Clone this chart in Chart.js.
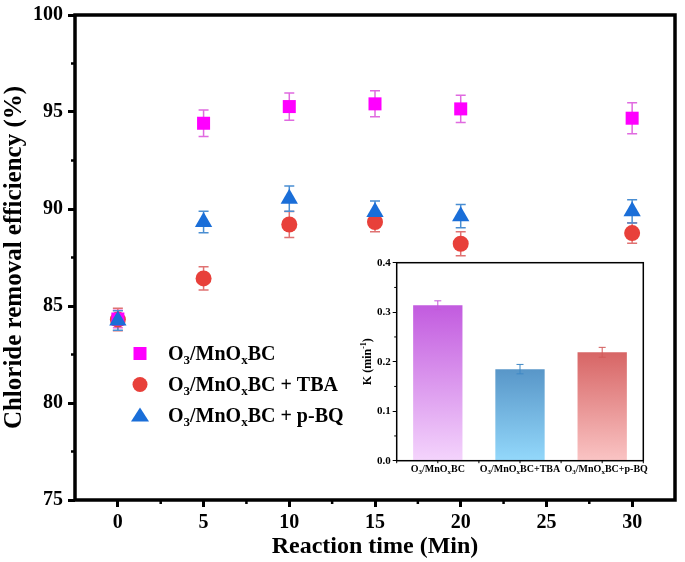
<!DOCTYPE html>
<html>
<head>
<meta charset="utf-8">
<script src="https://cdn.jsdelivr.net/npm/chart.js@4.4.0/dist/chart.umd.min.js"></script>
<style>
  html, body { margin: 0; padding: 0; background: #fff; }
  #wrap { position: relative; width: 685px; height: 562px; }
  #main { position: absolute; left: 0; top: 0; }
  #inset { position: absolute; left: 355px; top: 250px; }
</style>
</head>
<body>
<div id="wrap">
  <canvas id="main" width="685" height="562"></canvas>
  <canvas id="inset" width="305" height="230"></canvas>
</div>
<script>
/* ---- data ---- */
const times = [0, 5, 10, 15, 20, 30];
const xTickValues = [0, 5, 10, 15, 20, 25, 30];

const seriesNames = ['O₃/MnOₓBC', 'O₃/MnOₓBC + TBA', 'O₃/MnOₓBC + p-BQ'];

const removalPlain = [84.33, 94.42, 95.28, 95.42, 95.16, 94.68];
const removalPlainErr = [0.45, 0.68, 0.70, 0.67, 0.70, 0.80];

const removalTba = [84.30, 86.42, 89.20, 89.33, 88.21, 88.76];
const removalTbaErr = [0.58, 0.60, 0.67, 0.50, 0.62, 0.53];

const removalPbq = [84.25, 89.33, 90.53, 89.85, 89.63, 89.88];
const removalPbqErr = [0.50, 0.55, 0.65, 0.56, 0.60, 0.60];

const kLabels = ['O₃/MnOₓBC', 'O₃/MnOₓBC+TBA', 'O₃/MnOₓBC+p-BQ'];
const kValues = [0.314, 0.185, 0.219];
const kErr = [0.009, 0.0095, 0.010];

/* ---- styles ---- */
const SERIF = '"Liberation Serif", "Times New Roman", serif';
const kTop = ['#c25bdf', '#5896c8', '#d76565'];
const kBottom = ['#f4d4fc', '#93d8fb', '#fac4c4'];
const kErrColor = ['#c45ad8', '#3f88c5', '#d25a5a'];

// draws text with ₃ ₓ as subscripts and ⁻ ¹ as superscripts
function richParts(str) {
  const sub = { '₃': '3', 'ₓ': 'x' }, sup = { '⁻': '-', '¹': '1' };
  const parts = [];
  for (const ch of str) {
    const kind = sub[ch] ? 'sub' : sup[ch] ? 'sup' : 'n';
    const c = sub[ch] || sup[ch] || ch;
    const last = parts[parts.length - 1];
    if (last && last.kind === kind) last.text += c; else parts.push({ kind, text: c });
  }
  return parts;
}
function drawRich(ctx, str, x, y, size, align) {
  const parts = richParts(str);
  const small = Math.round(size * 0.65);
  const fontOf = k => `bold ${k === 'n' ? size : small}px ${SERIF}`;
  let w = 0;
  parts.forEach(p => { ctx.font = fontOf(p.kind); p.w = ctx.measureText(p.text).width; w += p.w; });
  let cx = align === 'center' ? x - w / 2 : align === 'right' ? x - w : x;
  ctx.textAlign = 'left';
  ctx.textBaseline = 'alphabetic';
  parts.forEach(p => {
    ctx.font = fontOf(p.kind);
    const dy = p.kind === 'sub' ? size * 0.22 : p.kind === 'sup' ? -size * 0.38 : 0;
    ctx.fillText(p.text, cx, y + dy);
    cx += p.w;
  });
}

/* ---- main chart plugins ---- */
const errorBars = {
  id: 'errorBars',
  beforeDatasetsDraw(chart) {
    const { ctx, scales: { x, y } } = chart;
    ctx.save();
    chart.data.datasets.forEach(ds => {
      ctx.strokeStyle = ds.errColor;
      ctx.lineWidth = 1.5;
      ds.data.forEach((p, i) => {
        const px = x.getPixelForValue(p.x);
        const top = y.getPixelForValue(p.y + ds.errors[i]);
        const bot = y.getPixelForValue(p.y - ds.errors[i]);
        ctx.beginPath();
        ctx.moveTo(px, top); ctx.lineTo(px, bot);
        ctx.moveTo(px - 5, top); ctx.lineTo(px + 5, top);
        ctx.moveTo(px - 5, bot); ctx.lineTo(px + 5, bot);
        ctx.stroke();
      });
    });
    ctx.restore();
  }
};

const frame = {
  id: 'frame',
  afterDraw(chart) {
    const { ctx, chartArea: a, scales: { x, y } } = chart;
    ctx.save();
    ctx.strokeStyle = '#000';
    ctx.lineWidth = 3.5;
    ctx.strokeRect(a.left, a.top, a.right - a.left, a.bottom - a.top);
    // minor ticks
    ctx.lineWidth = 2.5;
    ctx.beginPath();
    for (let v = 2.5; v < 32.5; v += 5) {
      const px = x.getPixelForValue(v);
      ctx.moveTo(px, a.bottom); ctx.lineTo(px, a.bottom + 4);
    }
    for (let v = 77.5; v < 100; v += 5) {
      const py = y.getPixelForValue(v);
      ctx.moveTo(a.left, py); ctx.lineTo(a.left - 4, py);
    }
    ctx.stroke();
    ctx.restore();
  }
};

const seriesLegend = {
  id: 'seriesLegend',
  afterDraw(chart) {
    const { ctx, chartArea: a } = chart;
    ctx.save();
    chart.data.datasets.forEach((ds, i) => {
      const mx = a.left + 65, my = a.top + 338.5 + i * 31;
      ctx.fillStyle = ds.pointBackgroundColor;
      ctx.beginPath();
      if (ds.pointStyle === 'rect') {
        ctx.rect(mx - 6.5, my - 6.5, 13, 13);
      } else if (ds.pointStyle === 'circle') {
        ctx.arc(mx, my, 7.5, 0, Math.PI * 2);
      } else {
        ctx.moveTo(mx, my - 8); ctx.lineTo(mx + 9, my + 6); ctx.lineTo(mx - 9, my + 6); ctx.closePath();
      }
      ctx.fill();
      ctx.fillStyle = '#000';
      drawRich(ctx, ds.label, a.left + 93, my + 6.5, 20, 'left');
    });
    ctx.restore();
  }
};

const tickFont = { family: SERIF, size: 20, weight: 'bold', lineHeight: 1 };
const titleFont = { family: SERIF, size: 25, weight: 'bold', lineHeight: 1 };

new Chart(document.getElementById('main'), {
  type: 'scatter',
  data: {
    datasets: [
      { label: seriesNames[0], data: times.map((t, i) => ({ x: t, y: removalPlain[i] })), errors: removalPlainErr,
        errColor: '#e06ae0', pointStyle: 'rect', pointRadius: 9.2, pointBackgroundColor: '#ff00ff',
        pointBorderColor: '#ff00ff', pointBorderWidth: 0, order: 1 },
      { label: seriesNames[1], data: times.map((t, i) => ({ x: t, y: removalTba[i] })), errors: removalTbaErr,
        errColor: '#e07272', pointStyle: 'circle', pointRadius: 8, pointBackgroundColor: '#e8403a',
        pointBorderColor: '#e8403a', pointBorderWidth: 0, order: 2 },
      { label: seriesNames[2], data: times.map((t, i) => ({ x: t, y: removalPbq[i] })), errors: removalPbqErr,
        errColor: '#4a8ed2', pointStyle: 'triangle', pointRadius: 10, pointBackgroundColor: '#1a6ed8',
        pointBorderColor: '#1a6ed8', pointBorderWidth: 0, order: 0 }
    ]
  },
  options: {
    responsive: false,
    animation: false,
    events: [],
    layout: { padding: { top: 13, right: 7, left: 0, bottom: 0 } },
    plugins: { legend: { display: false }, tooltip: { enabled: false } },
    scales: {
      x: {
        type: 'linear', min: -2.5, max: 32.5,
        afterBuildTicks: s => { s.ticks = xTickValues.map(v => ({ value: v })); },
        ticks: { font: tickFont, color: '#000', padding: 6 },
        grid: { drawOnChartArea: false, drawTicks: true, tickLength: 7, tickWidth: 3, color: '#000' },
        border: { display: false },
        title: { display: true, text: 'Reaction time (Min)', font: { ...titleFont, size: 24 }, color: '#000', padding: { top: 0, bottom: 3 } },
        afterFit: s => { s.height = 62; }
      },
      y: {
        min: 75, max: 100,
        ticks: { stepSize: 5, font: tickFont, color: '#000', padding: 5 },
        grid: { drawOnChartArea: false, drawTicks: true, tickLength: 7, tickWidth: 3, color: '#000' },
        border: { display: false },
        title: { display: true, text: 'Chloride removal efficiency (%)', font: titleFont, color: '#000', padding: { top: 2.5, bottom: 0 } },
        afterFit: s => { s.width = 75; }
      }
    }
  },
  plugins: [errorBars, frame, seriesLegend]
});

/* ---- inset bar chart ---- */
const insetDecor = {
  id: 'insetDecor',
  afterDatasetsDraw(chart) {
    const { ctx, chartArea: a, scales: { x, y } } = chart;
    ctx.save();
    // error bars
    ctx.lineWidth = 1;
    kValues.forEach((v, i) => {
      const px = x.getPixelForValue(i);
      const top = y.getPixelForValue(v + kErr[i]);
      const bot = y.getPixelForValue(v - kErr[i]);
      ctx.strokeStyle = kErrColor[i];
      ctx.beginPath();
      ctx.moveTo(px, top); ctx.lineTo(px, bot);
      ctx.moveTo(px - 3.5, top); ctx.lineTo(px + 3.5, top);
      ctx.moveTo(px - 3.5, bot); ctx.lineTo(px + 3.5, bot);
      ctx.stroke();
    });
    // frame + ticks
    ctx.strokeStyle = '#000';
    ctx.lineWidth = 1.5;
    ctx.strokeRect(a.left, a.top, a.right - a.left, a.bottom - a.top);
    ctx.lineWidth = 1;
    ctx.beginPath();
    for (let v = 0.05; v < 0.4; v += 0.1) {
      const py = y.getPixelForValue(v);
      ctx.moveTo(a.left, py); ctx.lineTo(a.left - 2.5, py);
    }
    for (let i = -0.5; i <= kLabels.length - 0.5; i += 0.5) {
      const px = x.getPixelForValue(i);
      ctx.moveTo(px, a.bottom); ctx.lineTo(px, a.bottom + 2.5);
    }
    ctx.stroke();
    // category labels
    ctx.fillStyle = '#000';
    kLabels.forEach((lab, i) => drawRich(ctx, lab, x.getPixelForValue(i) + (i === 2 ? 4 : 0), a.bottom + 11.5, 10, 'center'));
    // y title
    ctx.translate(12, (a.top + a.bottom) / 2);
    ctx.rotate(-Math.PI / 2);
    drawRich(ctx, 'K (min⁻¹)', 0, 4, 12, 'center');
    ctx.restore();
  }
};

new Chart(document.getElementById('inset'), {
  type: 'bar',
  data: {
    labels: kLabels,
    datasets: [{
      data: kValues,
      barPercentage: 0.6,
      categoryPercentage: 1,
      backgroundColor: c => {
        const ch = c.chart;
        if (!ch.chartArea) return kTop[c.dataIndex];
        const y = ch.scales.y;
        const g = ch.ctx.createLinearGradient(0, y.getPixelForValue(kValues[c.dataIndex]), 0, y.getPixelForValue(0));
        g.addColorStop(0, kTop[c.dataIndex]);
        g.addColorStop(1, kBottom[c.dataIndex]);
        return g;
      },
      borderWidth: 0
    }]
  },
  options: {
    responsive: false,
    animation: false,
    events: [],
    layout: { padding: { top: 12.7, right: 16.7, left: 0, bottom: 0 } },
    plugins: { legend: { display: false }, tooltip: { enabled: false } },
    scales: {
      x: {
        ticks: { display: false },
        grid: { display: false },
        border: { display: false },
        afterFit: s => { s.height = 19.3; }
      },
      y: {
        min: 0, max: 0.4,
        ticks: { stepSize: 0.1, callback: v => v.toFixed(1), font: { family: SERIF, size: 11, weight: 'bold' }, color: '#000', padding: 2 },
        grid: { drawOnChartArea: false, drawTicks: true, tickLength: 4, tickWidth: 1, color: '#000' },
        border: { display: false },
        afterFit: s => { s.width = 41.7; }
      }
    }
  },
  plugins: [insetDecor]
});
</script>
</body>
</html>
